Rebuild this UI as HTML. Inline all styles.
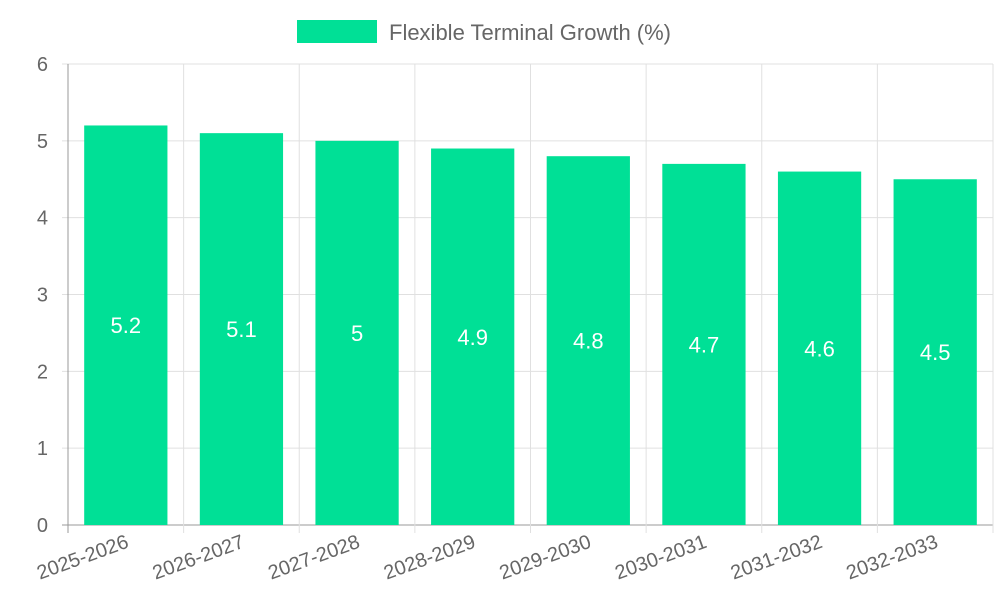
<!DOCTYPE html>
<html><head><meta charset="utf-8"><style>
body{margin:0;background:#fff;font-family:"Liberation Sans",sans-serif;}
svg text{font-family:"Liberation Sans",sans-serif;}
</style></head><body>
<svg id="chart" width="1000" height="600" xmlns="http://www.w3.org/2000/svg">
<g>
<rect x="297" y="20" width="80" height="23" fill="#00e096"/>
<text x="389" y="40" font-size="22" fill="#666">Flexible Terminal Growth (%)</text>
</g>
<g id="grid"></g>
<g id="bars"></g>
<g id="axes"></g>
</svg>
<script>
const categories=["2025-2026","2026-2027","2027-2028","2028-2029","2029-2030","2030-2031","2031-2032","2032-2033"];
const values=[5.2,5.1,5,4.9,4.8,4.7,4.6,4.5];
const yTicks=[0,1,2,3,4,5,6];
const L=68,R=993,T=64,B=525,yMax=6;
const ns="http://www.w3.org/2000/svg";
const band=(R-L)/categories.length;
const y=v=>B-(v/yMax)*(B-T);
const x=i=>L+i*band;
function mk(t,a,p){const e=document.createElementNS(ns,t);for(const k in a)e.setAttribute(k,a[k]);p.appendChild(e);return e;}
const grid=document.getElementById('grid'),bars=document.getElementById('bars'),axes=document.getElementById('axes');
yTicks.forEach(v=>{
 const l=mk('line',{x1:L-6,x2:R,y1:y(v),y2:y(v),stroke:v===0?'#999':'#e0e0e0','stroke-width':1},grid);
 
 
 const t=mk('text',{x:L-20,y:y(v)+7,'text-anchor':'end','font-size':20,fill:'#666'},axes);
 t.textContent=v;
 
 
});
for(let i=0;i<=categories.length;i++){
 const l=mk('line',{x1:x(i),x2:x(i),y1:T,y2:B+8,stroke:i===0?'#999':'#e0e0e0','stroke-width':1},grid);
 
 
}
categories.forEach((c,i)=>{
 const bw=band*0.72,bx=x(i)+(band-bw)/2;
 const r=mk('rect',{x:bx,y:y(values[i]),width:bw,height:B-y(values[i]),fill:'#00e096'},bars);
 
 
 const vt=mk('text',{x:bx+bw/2,y:(y(values[i])+B)/2+8,'text-anchor':'middle','font-size':22,fill:'#fff'},bars);
 vt.textContent=values[i];
 
 
 const cx=x(i)+band/2+4,cy=B+22;
 const t=mk('text',{x:cx,y:cy,'text-anchor':'end','font-size':20,fill:'#666',transform:`rotate(-20 ${cx} ${cy})`},axes);
 t.textContent=c;
 
 
});
</script>
</body></html>
